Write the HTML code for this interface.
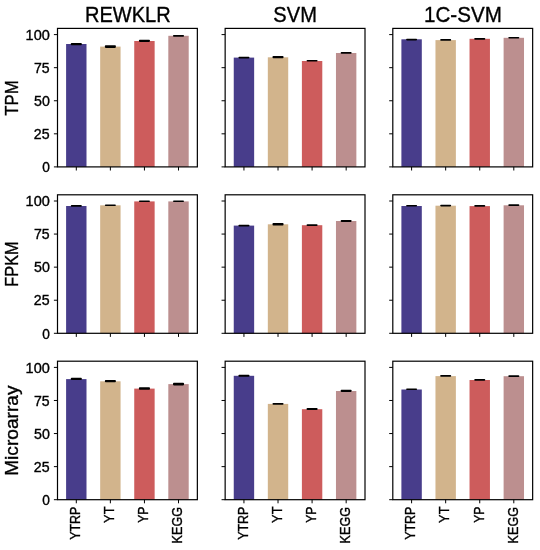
<!DOCTYPE html><html><head><meta charset="utf-8"><style>html,body{margin:0;padding:0;background:#fff;}svg{display:block;will-change:transform;}text{font-family:"Liberation Sans",sans-serif;fill:#000;stroke:#000;stroke-width:0.35px;}</style></head><body>
<svg width="540" height="550" viewBox="0 0 540 550">
<rect width="540" height="550" fill="#fff"/>
<rect x="66.1" y="44" width="20.4" height="122.9" fill="#483D8B"/>
<rect x="100.17" y="46.6" width="20.4" height="120.3" fill="#D2B48C"/>
<rect x="134.24" y="41" width="20.4" height="125.9" fill="#CD5C5C"/>
<rect x="168.31" y="35.8" width="20.4" height="131.1" fill="#BC8F8F"/>
<rect x="70.8" y="43" width="11" height="2.3" rx="0.8" fill="#000"/>
<rect x="104.87" y="45.3" width="11" height="2.6" rx="0.8" fill="#000"/>
<rect x="138.94" y="39.7" width="11" height="2.2" rx="0.8" fill="#000"/>
<rect x="173.01" y="34.9" width="11" height="1.8" rx="0.8" fill="#000"/>
<path d="M53.9 166.9H57.5 M53.9 133.825H57.5 M53.9 100.75H57.5 M53.9 67.675H57.5 M53.9 34.6H57.5 M76.3 166.9V170.5 M110.37 166.9V170.5 M144.44 166.9V170.5 M178.51 166.9V170.5" stroke="#000" stroke-width="1.0" fill="none"/>
<rect x="57.5" y="28.4" width="139.85" height="138.5" fill="none" stroke="#000" stroke-width="1.2"/>
<text transform="translate(42.151 172.1) scale(0.995 1)" font-size="13.775">0</text>
<text transform="translate(33.798 139.025) scale(1.029 1)" font-size="13.775">25</text>
<text transform="translate(33.992 105.95) scale(1.031 1)" font-size="13.775">50</text>
<text transform="translate(33.903 72.875) scale(1.022 1)" font-size="13.775">75</text>
<text transform="translate(25.611 39.8) scale(1.053 1)" font-size="13.775">100</text>
<text transform="translate(18 115.729) rotate(-90) scale(0.932 1)" font-size="18.013">TPM</text>
<text transform="translate(84.909 21.8) scale(0.932 1)" font-size="21.51">REWKLR</text>
<rect x="233.75" y="57.6" width="20.4" height="109.3" fill="#483D8B"/>
<rect x="267.82" y="57.3" width="20.4" height="109.6" fill="#D2B48C"/>
<rect x="301.89" y="61" width="20.4" height="105.9" fill="#CD5C5C"/>
<rect x="335.96" y="53" width="20.4" height="113.9" fill="#BC8F8F"/>
<rect x="238.45" y="56.7" width="11" height="1.7" rx="0.8" fill="#000"/>
<rect x="272.52" y="56" width="11" height="2.2" rx="0.8" fill="#000"/>
<rect x="306.59" y="59.9" width="11" height="1.7" rx="0.8" fill="#000"/>
<rect x="340.66" y="52.1" width="11" height="1.6" rx="0.8" fill="#000"/>
<path d="M221.55 166.9H225.15 M221.55 133.825H225.15 M221.55 100.75H225.15 M221.55 67.675H225.15 M221.55 34.6H225.15 M243.95 166.9V170.5 M278.02 166.9V170.5 M312.09 166.9V170.5 M346.16 166.9V170.5" stroke="#000" stroke-width="1.0" fill="none"/>
<rect x="225.15" y="28.4" width="139.85" height="138.5" fill="none" stroke="#000" stroke-width="1.2"/>
<text transform="translate(273.357 21.8) scale(0.934 1)" font-size="21.51">SVM</text>
<rect x="401.4" y="39.3" width="20.4" height="127.6" fill="#483D8B"/>
<rect x="435.47" y="40.1" width="20.4" height="126.8" fill="#D2B48C"/>
<rect x="469.54" y="38.8" width="20.4" height="128.1" fill="#CD5C5C"/>
<rect x="503.61" y="37.8" width="20.4" height="129.1" fill="#BC8F8F"/>
<rect x="406.1" y="38.7" width="11" height="1.7" rx="0.8" fill="#000"/>
<rect x="440.17" y="39.1" width="11" height="1.7" rx="0.8" fill="#000"/>
<rect x="474.24" y="38" width="11" height="1.7" rx="0.8" fill="#000"/>
<rect x="508.31" y="36.9" width="11" height="1.5" rx="0.8" fill="#000"/>
<path d="M389.2 166.9H392.8 M389.2 133.825H392.8 M389.2 100.75H392.8 M389.2 67.675H392.8 M389.2 34.6H392.8 M411.6 166.9V170.5 M445.67 166.9V170.5 M479.74 166.9V170.5 M513.81 166.9V170.5" stroke="#000" stroke-width="1.0" fill="none"/>
<rect x="392.8" y="28.4" width="139.85" height="138.5" fill="none" stroke="#000" stroke-width="1.2"/>
<text transform="translate(424.037 21.8) scale(0.957 1)" font-size="21.51">1C-SVM</text>
<rect x="66.1" y="206" width="20.4" height="127.3" fill="#483D8B"/>
<rect x="100.17" y="205.3" width="20.4" height="128" fill="#D2B48C"/>
<rect x="134.24" y="201.4" width="20.4" height="131.9" fill="#CD5C5C"/>
<rect x="168.31" y="201.4" width="20.4" height="131.9" fill="#BC8F8F"/>
<rect x="70.8" y="205.1" width="11" height="1.7" rx="0.8" fill="#000"/>
<rect x="104.87" y="204.4" width="11" height="1.6" rx="0.8" fill="#000"/>
<rect x="138.94" y="200.6" width="11" height="1.5" rx="0.8" fill="#000"/>
<rect x="173.01" y="200.6" width="11" height="1.5" rx="0.8" fill="#000"/>
<path d="M53.9 333.3H57.5 M53.9 300.225H57.5 M53.9 267.15H57.5 M53.9 234.075H57.5 M53.9 201H57.5 M76.3 333.3V336.9 M110.37 333.3V336.9 M144.44 333.3V336.9 M178.51 333.3V336.9" stroke="#000" stroke-width="1.0" fill="none"/>
<rect x="57.5" y="194.8" width="139.85" height="138.5" fill="none" stroke="#000" stroke-width="1.2"/>
<text transform="translate(42.151 338.5) scale(0.995 1)" font-size="13.775">0</text>
<text transform="translate(33.798 305.425) scale(1.029 1)" font-size="13.775">25</text>
<text transform="translate(33.992 272.35) scale(1.031 1)" font-size="13.775">50</text>
<text transform="translate(33.903 239.275) scale(1.022 1)" font-size="13.775">75</text>
<text transform="translate(25.611 206.2) scale(1.053 1)" font-size="13.775">100</text>
<text transform="translate(18 286.639) rotate(-90) scale(0.903 1)" font-size="18.013">FPKM</text>
<rect x="233.75" y="225.6" width="20.4" height="107.7" fill="#483D8B"/>
<rect x="267.82" y="224.3" width="20.4" height="109" fill="#D2B48C"/>
<rect x="301.89" y="225.2" width="20.4" height="108.1" fill="#CD5C5C"/>
<rect x="335.96" y="221" width="20.4" height="112.3" fill="#BC8F8F"/>
<rect x="238.45" y="224.7" width="11" height="1.8" rx="0.8" fill="#000"/>
<rect x="272.52" y="223" width="11" height="2.6" rx="0.8" fill="#000"/>
<rect x="306.59" y="224.3" width="11" height="1.7" rx="0.8" fill="#000"/>
<rect x="340.66" y="220.1" width="11" height="1.8" rx="0.8" fill="#000"/>
<path d="M221.55 333.3H225.15 M221.55 300.225H225.15 M221.55 267.15H225.15 M221.55 234.075H225.15 M221.55 201H225.15 M243.95 333.3V336.9 M278.02 333.3V336.9 M312.09 333.3V336.9 M346.16 333.3V336.9" stroke="#000" stroke-width="1.0" fill="none"/>
<rect x="225.15" y="194.8" width="139.85" height="138.5" fill="none" stroke="#000" stroke-width="1.2"/>
<rect x="401.4" y="206" width="20.4" height="127.3" fill="#483D8B"/>
<rect x="435.47" y="205.7" width="20.4" height="127.6" fill="#D2B48C"/>
<rect x="469.54" y="206.1" width="20.4" height="127.2" fill="#CD5C5C"/>
<rect x="503.61" y="205.3" width="20.4" height="128" fill="#BC8F8F"/>
<rect x="406.1" y="205.1" width="11" height="1.5" rx="0.8" fill="#000"/>
<rect x="440.17" y="204.7" width="11" height="1.7" rx="0.8" fill="#000"/>
<rect x="474.24" y="205.1" width="11" height="1.7" rx="0.8" fill="#000"/>
<rect x="508.31" y="204.2" width="11" height="1.8" rx="0.8" fill="#000"/>
<path d="M389.2 333.3H392.8 M389.2 300.225H392.8 M389.2 267.15H392.8 M389.2 234.075H392.8 M389.2 201H392.8 M411.6 333.3V336.9 M445.67 333.3V336.9 M479.74 333.3V336.9 M513.81 333.3V336.9" stroke="#000" stroke-width="1.0" fill="none"/>
<rect x="392.8" y="194.8" width="139.85" height="138.5" fill="none" stroke="#000" stroke-width="1.2"/>
<rect x="66.1" y="379.1" width="20.4" height="120.6" fill="#483D8B"/>
<rect x="100.17" y="381.3" width="20.4" height="118.4" fill="#D2B48C"/>
<rect x="134.24" y="388.6" width="20.4" height="111.1" fill="#CD5C5C"/>
<rect x="168.31" y="384.1" width="20.4" height="115.6" fill="#BC8F8F"/>
<rect x="70.8" y="377.8" width="11" height="2.3" rx="0.8" fill="#000"/>
<rect x="104.87" y="380.1" width="11" height="2.2" rx="0.8" fill="#000"/>
<rect x="138.94" y="387.3" width="11" height="2.4" rx="0.8" fill="#000"/>
<rect x="173.01" y="382.8" width="11" height="2.6" rx="0.8" fill="#000"/>
<path d="M53.9 499.7H57.5 M53.9 466.625H57.5 M53.9 433.55H57.5 M53.9 400.475H57.5 M53.9 367.4H57.5 M76.3 499.7V503.3 M110.37 499.7V503.3 M144.44 499.7V503.3 M178.51 499.7V503.3" stroke="#000" stroke-width="1.0" fill="none"/>
<rect x="57.5" y="361.2" width="139.85" height="138.5" fill="none" stroke="#000" stroke-width="1.2"/>
<text transform="translate(42.151 504.9) scale(0.995 1)" font-size="13.775">0</text>
<text transform="translate(33.798 471.825) scale(1.029 1)" font-size="13.775">25</text>
<text transform="translate(33.992 438.75) scale(1.031 1)" font-size="13.775">50</text>
<text transform="translate(33.903 405.675) scale(1.022 1)" font-size="13.775">75</text>
<text transform="translate(25.611 372.6) scale(1.053 1)" font-size="13.775">100</text>
<text transform="translate(18 475.853) rotate(-90) scale(1.063 1)" font-size="18.013">Microarray</text>
<text transform="translate(80.1 539.853) rotate(-90) scale(0.906 1)" font-size="13.775">YTRP</text>
<text transform="translate(114.17 522.991) rotate(-90) scale(0.939 1)" font-size="13.775">YT</text>
<text transform="translate(148.24 522.874) rotate(-90) scale(0.886 1)" font-size="13.775">YP</text>
<text transform="translate(182.31 543.447) rotate(-90) scale(0.918 1)" font-size="13.775">KEGG</text>
<rect x="233.75" y="375.8" width="20.4" height="123.9" fill="#483D8B"/>
<rect x="267.82" y="403.9" width="20.4" height="95.8" fill="#D2B48C"/>
<rect x="301.89" y="409.2" width="20.4" height="90.5" fill="#CD5C5C"/>
<rect x="335.96" y="391" width="20.4" height="108.7" fill="#BC8F8F"/>
<rect x="238.45" y="374.7" width="11" height="2" rx="0.8" fill="#000"/>
<rect x="272.52" y="402.9" width="11" height="1.9" rx="0.8" fill="#000"/>
<rect x="306.59" y="407.9" width="11" height="2.2" rx="0.8" fill="#000"/>
<rect x="340.66" y="389.7" width="11" height="2.2" rx="0.8" fill="#000"/>
<path d="M221.55 499.7H225.15 M221.55 466.625H225.15 M221.55 433.55H225.15 M221.55 400.475H225.15 M221.55 367.4H225.15 M243.95 499.7V503.3 M278.02 499.7V503.3 M312.09 499.7V503.3 M346.16 499.7V503.3" stroke="#000" stroke-width="1.0" fill="none"/>
<rect x="225.15" y="361.2" width="139.85" height="138.5" fill="none" stroke="#000" stroke-width="1.2"/>
<text transform="translate(247.75 539.853) rotate(-90) scale(0.906 1)" font-size="13.775">YTRP</text>
<text transform="translate(281.82 522.991) rotate(-90) scale(0.939 1)" font-size="13.775">YT</text>
<text transform="translate(315.89 522.874) rotate(-90) scale(0.886 1)" font-size="13.775">YP</text>
<text transform="translate(349.96 543.447) rotate(-90) scale(0.918 1)" font-size="13.775">KEGG</text>
<rect x="401.4" y="389.5" width="20.4" height="110.2" fill="#483D8B"/>
<rect x="435.47" y="376.1" width="20.4" height="123.6" fill="#D2B48C"/>
<rect x="469.54" y="380" width="20.4" height="119.7" fill="#CD5C5C"/>
<rect x="503.61" y="376.2" width="20.4" height="123.5" fill="#BC8F8F"/>
<rect x="406.1" y="388.5" width="11" height="1.6" rx="0.8" fill="#000"/>
<rect x="440.17" y="374.9" width="11" height="1.8" rx="0.8" fill="#000"/>
<rect x="474.24" y="379.1" width="11" height="1.7" rx="0.8" fill="#000"/>
<rect x="508.31" y="375.2" width="11" height="1.9" rx="0.8" fill="#000"/>
<path d="M389.2 499.7H392.8 M389.2 466.625H392.8 M389.2 433.55H392.8 M389.2 400.475H392.8 M389.2 367.4H392.8 M411.6 499.7V503.3 M445.67 499.7V503.3 M479.74 499.7V503.3 M513.81 499.7V503.3" stroke="#000" stroke-width="1.0" fill="none"/>
<rect x="392.8" y="361.2" width="139.85" height="138.5" fill="none" stroke="#000" stroke-width="1.2"/>
<text transform="translate(415.4 539.853) rotate(-90) scale(0.906 1)" font-size="13.775">YTRP</text>
<text transform="translate(449.47 522.991) rotate(-90) scale(0.939 1)" font-size="13.775">YT</text>
<text transform="translate(483.54 522.874) rotate(-90) scale(0.886 1)" font-size="13.775">YP</text>
<text transform="translate(517.61 543.447) rotate(-90) scale(0.918 1)" font-size="13.775">KEGG</text>
</svg></body></html>
